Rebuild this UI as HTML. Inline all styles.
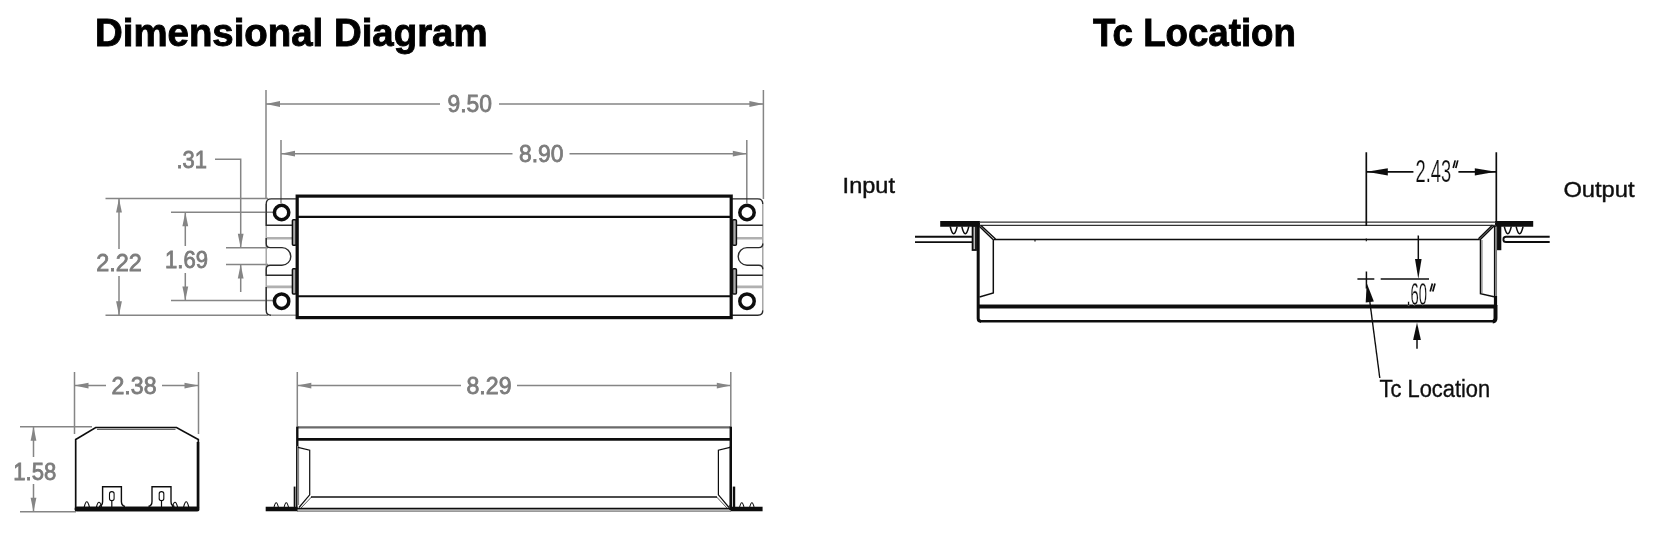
<!DOCTYPE html>
<html><head><meta charset="utf-8">
<style>
html,body{margin:0;padding:0;background:#fff;}
body{width:1660px;height:538px;overflow:hidden;font-family:"Liberation Sans",sans-serif;}
svg{display:block;}
text{font-family:"Liberation Sans",sans-serif;}
.g{stroke:#858585;stroke-width:1.5;fill:none;}
.gt{fill:#7c7c7c;font-size:23.5px;stroke:#7c7c7c;stroke-width:0.8;}
.k{stroke:#111;fill:none;}
</style></head><body>
<svg width="1660" height="538" viewBox="0 0 1660 538">
<defs>
<filter id="bl" x="-2%" y="-2%" width="104%" height="104%"><feGaussianBlur stdDeviation="0.45"/></filter>
<filter id="bl2" x="-2%" y="-10%" width="104%" height="120%"><feGaussianBlur stdDeviation="0.3"/></filter>
<path id="ar" d="M0,0 L-14,-2.9 L-14,2.9 Z" fill="#858585"/>
<path id="ak" d="M0,0 L-21,-3.6 L-21,3.6 Z" fill="#111"/>
</defs>
<rect width="1660" height="538" fill="#fff"/>

<!-- titles -->
<text x="95" y="46" font-size="39" font-weight="700" fill="#000" stroke="#000" stroke-width="0.9" filter="url(#bl2)" textLength="392.6" lengthAdjust="spacingAndGlyphs">Dimensional Diagram</text>
<text x="1092.9" y="46" font-size="39" font-weight="700" fill="#000" stroke="#000" stroke-width="0.9" filter="url(#bl2)" textLength="203" lengthAdjust="spacingAndGlyphs">Tc Location</text>

<!-- ===== TOP VIEW ===== -->
<g id="topview" filter="url(#bl)">
<!-- dim 9.50 -->
<path class="g" d="M266,90 V199 M763.4,90 V199 M266,104 H440 M499,104 H763.4"/>
<use href="#ar" transform="translate(266,104) rotate(180)"/>
<use href="#ar" transform="translate(763.4,104)"/>
<text class="gt" x="447.5" y="112.3" textLength="44.5" lengthAdjust="spacingAndGlyphs">9.50</text>
<!-- dim 8.90 -->
<path class="g" d="M281,140 V203 M746.8,140 V203 M281,153.7 H512.5 M569.5,153.7 H746.8"/>
<use href="#ar" transform="translate(281,153.7) rotate(180)"/>
<use href="#ar" transform="translate(746.8,153.7)"/>
<text class="gt" x="519" y="162" textLength="44.5" lengthAdjust="spacingAndGlyphs">8.90</text>
<!-- dim 2.22 -->
<path class="g" d="M105.5,198.6 H268 M105.5,315.3 H268 M119,198.6 V249 M119,276 V315.3"/>
<use href="#ar" transform="translate(119,198.6) rotate(-90)"/>
<use href="#ar" transform="translate(119,315.3) rotate(90)"/>
<text class="gt" x="96.3" y="271" textLength="45.5" lengthAdjust="spacingAndGlyphs">2.22</text>
<!-- dim 1.69 -->
<path class="g" d="M171,212.3 H273 M171,300.4 H273 M185.3,212.3 V246 M185.3,273 V300.4"/>
<use href="#ar" transform="translate(185.3,212.3) rotate(-90)"/>
<use href="#ar" transform="translate(185.3,300.4) rotate(90)"/>
<text class="gt" x="165" y="268" textLength="43" lengthAdjust="spacingAndGlyphs">1.69</text>
<!-- dim .31 -->
<path class="g" d="M215,159.3 H240.7 V247.8 M226,247.8 H268 M226,264.6 H268 M240.7,264.6 V292"/>
<use href="#ar" transform="translate(240.7,247.8) rotate(90)"/>
<use href="#ar" transform="translate(240.7,264.6) rotate(-90)"/>
<text class="gt" x="176.5" y="168" textLength="30.5" lengthAdjust="spacingAndGlyphs">.31</text>

<!-- left bracket -->
<path style="stroke:#999" class="k" stroke-width="1.3" d="M266.2,204 V310"/>
<path style="stroke:#2a2a2a" class="k" stroke-width="1.4" d="M297,198.9 H271.2 Q266.2,198.9 266.2,203.9 V225.2 H293 M266.2,238 V243.5 Q266.2,247.6 270.2,247.6 H282 A8.8,8.8 0 0 1 282,265.2 H270.2 Q266.2,265.2 266.2,269.2 V275.2 H293 M266.2,287 V310.2 Q266.2,315.2 271.2,315.2"/>
<path style="stroke:#888" class="k" stroke-width="1.3" d="M271.2,315.2 H297"/>
<path style="stroke:#b0b0b0" class="k" stroke-width="2.6" d="M267,238.2 H292 M267,286.9 H292"/>
<rect x="292.4" y="219.8" width="3.8" height="25.4" rx="1" style="fill:#aaa" class="k" stroke-width="1.5"/>
<rect x="292.4" y="268.8" width="3.8" height="25.2" rx="1" style="fill:#aaa" class="k" stroke-width="1.5"/>
<circle cx="281.6" cy="212.5" r="7.2" class="k" stroke-width="3.5"/>
<circle cx="281.6" cy="301.2" r="7.2" class="k" stroke-width="3.5"/>
<!-- right bracket -->
<path style="stroke:#999" class="k" stroke-width="1.3" d="M762.8,204 V310"/>
<path style="stroke:#2a2a2a" class="k" stroke-width="1.4" d="M731,198.9 H757.8 Q762.8,198.9 762.8,203.9 M762.8,225.2 H736 M762.8,243.5 Q762.8,247.6 758.8,247.6 H747 A8.8,8.8 0 0 0 747,265.2 H758.8 Q762.8,265.2 762.8,269.2 M762.8,275.2 H736 M762.8,310.2 Q762.8,315.2 757.8,315.2 H731"/>
<path style="stroke:#b0b0b0" class="k" stroke-width="2.6" d="M737,238.2 H762 M737,286.9 H762"/>
<rect x="732.6" y="219.8" width="3.8" height="25.4" rx="1" style="fill:#aaa" class="k" stroke-width="1.5"/>
<rect x="732.6" y="268.8" width="3.8" height="25.2" rx="1" style="fill:#aaa" class="k" stroke-width="1.5"/>
<circle cx="747" cy="212.5" r="7.2" class="k" stroke-width="3.5"/>
<circle cx="747" cy="301.2" r="7.2" class="k" stroke-width="3.5"/>
<!-- main body -->
<rect x="297.2" y="196.1" width="434" height="121.5" style="fill:#fff" class="k" stroke-width="3.2"/>
<path class="k" stroke-width="2.3" d="M297,216.9 H731.4"/><path class="k" stroke-width="1.9" d="M297,296.2 H731.4"/>
</g>

<!-- ===== END VIEW ===== -->
<g id="endview" filter="url(#bl)">
<path class="g" d="M74.5,372 V434 M198.5,372 V434 M74.5,385.6 H106 M162,385.6 H198.5"/>
<use href="#ar" transform="translate(74.5,385.6) rotate(180)"/>
<use href="#ar" transform="translate(198.5,385.6)"/>
<text class="gt" x="111.5" y="394" textLength="45" lengthAdjust="spacingAndGlyphs">2.38</text>
<path class="g" d="M20,426.8 H92 M20,511.8 H76 M33.5,426.8 V457 M33.5,484 V511.8"/>
<use href="#ar" transform="translate(33.5,426.8) rotate(-90)"/>
<use href="#ar" transform="translate(33.5,511.8) rotate(90)"/>
<text class="gt" x="13.3" y="479.5" textLength="43" lengthAdjust="spacingAndGlyphs">1.58</text>
<!-- shape -->
<path class="k" stroke-width="1.7" d="M75.7,508 V439.6 L95.7,427.5 H176.5 L198.3,439.6 V508"/>
<path class="k" stroke-width="2.6" d="M198,442 V508"/>
<path style="stroke:#666" class="k" stroke-width="1.2" d="M97,429.4 H175.5"/>
<path class="k" stroke-width="5" stroke-linecap="round" d="M77,508.9 H197"/>
<!-- small boxes -->
<path class="k" stroke-width="1.4" d="M99,506.5 Q102.6,505.5 102.6,501.5 V486.8 H121.4 V501.5 Q121.4,505.5 125,506.5"/>
<path class="k" stroke-width="1.4" d="M148.5,506.5 Q152,505.5 152,501.5 V486.8 H171 V501.5 Q171,505.5 174.5,506.5"/>
<rect x="109.5" y="491.6" width="4.6" height="9" rx="2.2" class="k" stroke-width="1.1"/>
<rect x="159.2" y="491.6" width="4.6" height="9" rx="2.2" class="k" stroke-width="1.1"/>
<path class="k" stroke-width="1.2" d="M111.8,500.6 V507 M161.5,500.6 V507"/>
<!-- bumps -->
<path class="k" stroke-width="1.2" d="M84.2,507 Q86.8,496.5 89.4,507 M96.4,507 Q99,497.5 101.6,507 M172.4,507 Q175,497.5 177.6,507 M183.6,507 Q186.2,496.5 188.8,507"/>
</g>

<!-- ===== SIDE VIEW ===== -->
<g id="sideview" filter="url(#bl)">
<path class="g" d="M297.3,372 V426 M730.8,372 V426 M297.3,385.6 H461 M517,385.6 H730.8"/>
<use href="#ar" transform="translate(297.3,385.6) rotate(180)"/>
<use href="#ar" transform="translate(730.8,385.6)"/>
<text class="gt" x="466.5" y="394" textLength="45" lengthAdjust="spacingAndGlyphs">8.29</text>
<!-- body -->
<path style="stroke:#6a6a6a" class="k" stroke-width="2.2" d="M297.3,427.3 H730.8"/>
<path class="k" stroke-width="2.8" d="M297.3,439.3 H730.8"/>
<path class="k" stroke-width="2.4" d="M297.3,426.6 V446 M730.8,426.6 V446"/>
<path class="k" stroke-width="1.5" d="M296.8,446 V509"/>
<path class="k" stroke-width="2.8" d="M730.6,446 V510"/>
<path style="stroke:#777" class="k" stroke-width="1" d="M298.6,446 V505 M729.5,446 V505"/>
<path class="k" stroke-width="1.2" d="M298,447.3 L309.7,450.2 V494.8 L299,507.5 M730,447.3 L718.4,450.2 V494.8 L729,507.5"/>
<path style="stroke:#555" class="k" stroke-width="1" d="M311.5,497 L300,509 M716.6,497 L728,509"/>
<path class="k" stroke-width="1.5" d="M311,497 H717"/>
<path class="k" stroke-width="1.8" d="M297,508.6 H731"/>
<path style="stroke:#999" class="k" stroke-width="1.8" d="M297,511.2 H731"/>
<!-- flanges -->
<path class="k" stroke-width="4.4" d="M265.7,509 H297.5 M730.6,509 H762.6"/>
<path class="k" stroke-width="1.8" d="M294.6,486.6 V509"/>
<path class="k" stroke-width="2.4" d="M734,486.6 V509"/>
<path class="k" stroke-width="1.1" d="M273.8,508 Q276.2,497.5 278.6,508 M283.9,508 Q286.3,497.5 288.7,508 M739.4,508 Q741.8,497.5 744.2,508 M749.5,508 Q751.9,497.5 754.3,508"/>
</g>

<!-- ===== TC VIEW ===== -->
<g id="tcview" filter="url(#bl)">
<text x="842.6" y="193.3" font-size="21.6" fill="#111" stroke="#111" stroke-width="0.4" textLength="52.4" lengthAdjust="spacingAndGlyphs">Input</text>
<text x="1563.4" y="196.6" font-size="21.6" fill="#111" stroke="#111" stroke-width="0.4" textLength="71.2" lengthAdjust="spacingAndGlyphs">Output</text>
<text x="1379.6" y="396.7" font-size="23.3" fill="#111" stroke="#111" stroke-width="0.35" textLength="110.6" lengthAdjust="spacingAndGlyphs">Tc Location</text>

<!-- wires -->
<path class="k" stroke-width="1.9" d="M915,236.7 H972.5 M915,242.1 H972.5"/>
<path class="k" stroke-width="1.9" d="M1549.7,236.8 H1506 Q1503.4,236.8 1503.4,239.4 Q1503.4,242 1506,242 H1549.7"/>
<!-- flange bars -->
<path class="k" stroke-width="5.7" d="M940.2,223.9 H980 M1495,223.9 H1533.2"/>
<path class="k" stroke-width="1.5" d="M950.2,226.5 Q953.7,241 957.2,226.5 M961.8,226.5 Q965.3,241 968.8,226.5 M1504.3,226.5 Q1507.8,241 1511.3,226.5 M1516.1,226.5 Q1519.6,241 1523.1,226.5"/>
<rect x="972.6" y="226" width="3.4" height="24" style="fill:#bbb" class="k" stroke-width="1.8"/>
<rect x="1496.8" y="226" width="4.5" height="24.2" fill="#111"/>
<!-- body -->
<path style="stroke:#333" class="k" stroke-width="1.3" d="M979,222.2 H1496 M979,225.4 H1496"/>
<path class="k" stroke-width="1.6" d="M994,239.5 H1479.8"/>
<path class="k" stroke-width="1.5" d="M979.5,226.5 L993.3,239.8 V293 L979.5,297 M981,225.5 L995.5,239"/>
<path class="k" stroke-width="1.5" d="M1494,226 L1480.5,239.2 V293.7 L1494,296.8 M1492.5,225 L1478.5,238.8"/>
<path style="stroke:#777" class="k" stroke-width="1" d="M1482,240 V293"/>
<path class="k" stroke-width="3" d="M978.2,224 V318.5 Q978.2,321.3 981,321.3"/>
<path class="k" stroke-width="1.6" d="M1494.7,226 V297"/>
<path style="stroke:#777" class="k" stroke-width="1.1" d="M1496.5,227 V297"/>
<path class="k" stroke-width="3.2" d="M1495.5,296 V306"/>
<path class="k" stroke-width="4" d="M1495.5,305 V318.3 Q1495.5,321.4 1492.8,321.4"/>
<path class="k" stroke-width="4" d="M978,306.6 H1496"/>
<path class="k" stroke-width="2.5" d="M980,321.2 H1494"/>
<!-- 2.43 dim -->
<path class="k" stroke-width="1.7" d="M1366.3,152.3 V226 M1496.3,152.3 V222 M1366.3,171.8 H1413.4 M1458.4,171.8 H1496.3"/>
<use href="#ak" transform="translate(1366.8,171.8) rotate(180)"/>
<use href="#ak" transform="translate(1495.8,171.8)"/>
<text x="1415.6" y="182.4" font-size="31.5" fill="#111" stroke="#fff" stroke-width="0.2" textLength="35.6" lengthAdjust="spacingAndGlyphs">2.43</text>
<path class="k" stroke-width="1.7" d="M1453.2,168 L1455.2,160.4 M1455.8,168 L1457.8,160.4"/>
<path class="k" stroke-width="1.2" d="M1366.3,238.6 V241.2 M1035,239.5 V241.6"/>
<!-- cross -->
<path class="k" stroke-width="1.5" d="M1357.4,279 H1374.3 M1366.4,271.5 V288.5"/>
<!-- .60 dim -->
<path class="k" stroke-width="1.5" d="M1380.7,279 H1429 M1418.3,235.6 V262 M1417,338 V348.8"/>
<path d="M1418.3,279 L1415,259 L1421.6,259 Z" fill="#111"/>
<path d="M1417,322.6 L1413.1,340 L1420.9,340 Z" fill="#111"/>
<text x="1406.4" y="304.8" font-size="31.5" fill="#111" stroke="#fff" stroke-width="0.25" textLength="20.6" lengthAdjust="spacingAndGlyphs">.60</text>
<path class="k" stroke-width="1.7" d="M1430.2,291.6 L1432.4,283.6 M1432.8,291.6 L1435,283.6"/>
<!-- leader -->
<path class="k" stroke-width="1.4" d="M1369.6,300 L1379.8,378"/>
<path d="M1366.7,283 L1373.9,301.4 L1365.7,302.4 Z" fill="#111"/>
</g>
</svg>
</body></html>
